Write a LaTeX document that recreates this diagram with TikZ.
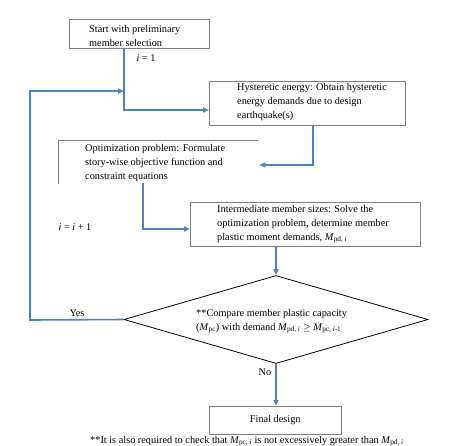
\documentclass[tikz,border=0pt]{standalone}
\usepackage{fontspec}
\setmainfont{Liberation Serif}
\usetikzlibrary{shapes.geometric,arrows.meta}
\definecolor{flowblue}{HTML}{4F81BD}
\definecolor{boxgray}{HTML}{808080}
\begin{document}
\begin{tikzpicture}[x=1pt,y=-1pt,
  txt/.style={font=\fontsize{10.3pt}{14pt}\selectfont, inner sep=0pt, align=left},
  box/.style={draw=boxgray, line width=0.6pt, inner sep=0pt, anchor=north west},
  flow/.style={draw=flowblue, line width=1.6pt, -{Triangle[length=6pt,width=5pt]}},
  dia/.style={draw=black, line width=0.8pt, diamond, inner sep=0pt}]
\useasboundingbox (0,0) rectangle (474,445);
% boxes
\node[box, minimum width=140pt, minimum height=29pt] (b1) at (69,19) {};
\node[txt, anchor=west] (t1) at (89,36) {Start with preliminary\\member selection};
\node[box, minimum width=196pt, minimum height=44pt] (b2) at (209,81) {};
\node[txt, anchor=west] (t2) at (237,102) {Hysteretic energy: Obtain hysteretic\\energy demands due to design\\earthquake(s)};
\node[inner sep=0pt, anchor=north west, minimum width=200pt, minimum height=44pt] (b3) at (58,140) {};
\draw[boxgray, line width=0.6pt] (b3.south west) -- (b3.north west) -- (b3.north east);
\node[txt, anchor=west] (t3) at (85,163) {Optimization problem: Formulate\\story-wise objective function and\\constraint equations};
\node[box, minimum width=230pt, minimum height=44pt] (b4) at (190,202) {};
\node[txt, anchor=west] (t4) at (217,224) {Intermediate member sizes: Solve the\\optimization problem, determine member\\plastic moment demands, \textit{M}\textsubscript{pd, \textit{i}}};
\node[dia, minimum width=304pt, minimum height=88pt] (d) at (276,319.5) {};
\node[txt, anchor=west] (td) at (196,321) {**Compare member plastic capacity\\(\textit{M}\textsubscript{pc}) with demand \textit{M}\textsubscript{pd, \textit{i}} $\geq$ \textit{M}\textsubscript{pc, \textit{i}-1}};
\node[box, minimum width=132pt, minimum height=28pt] (fin) at (209,406) {};
\node[txt] (tf) at (fin.center) {Final design};
% labels
\node[txt] (l1) at (146,58) {\textit{i} = 1};
\node[txt] (l2) at (75,227) {\textit{i} = \textit{i} + 1};
\node[txt] (yes) at (77,313) {Yes};
\node[txt] (no) at (265,372) {No};
\node[txt, anchor=base west] (foot) at (90,443) {**It is also required to check that \textit{M}\textsubscript{pc, \textit{i}} is not excessively greater than \textit{M}\textsubscript{pd, \textit{i}}};
% connectors
\coordinate (j1) at (124,110);
\coordinate (fb1) at (30,320);
\coordinate (fb2) at (30,91);
\coordinate (j2) at (313,165);
\coordinate (j3) at (143,229);
\draw[flow] (b1.south -| j1) -- (j1) -- (j1 -| b2.west);
\draw[flow] (d.west) -- (fb1) -- (fb2) -- (fb2 -| j1);
\draw[flow] (b2.south -| j2) -- (j2) -- ([xshift=1pt]j2 -| b3.east);
\draw[flow] ([yshift=1pt]b3.south -| j3) -- (j3) -- (j3 -| b4.west);
\draw[flow] (d.north |- b4.south) -- (d.north);
\draw[flow] (d.south) -- (d.south |- fin.north);
\end{tikzpicture}
\end{document}
